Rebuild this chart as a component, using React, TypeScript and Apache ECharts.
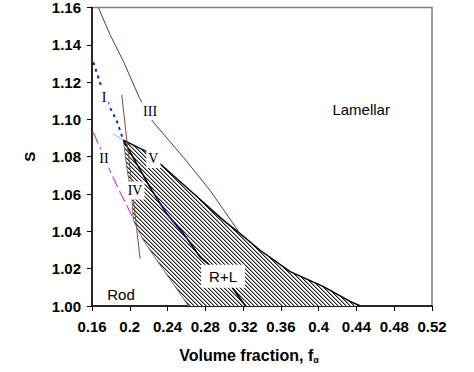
import React, { useEffect, useRef } from "react";
import * as echarts from "echarts";

// axis ranges and ticks
const xRange = [0.16, 0.52];
const xStep = 0.04;
const yRange = [1.0, 1.16];
const yStep = 0.02;

// hatched region boundaries [f, S]
const innerLeft = [
  [0.1932, 1.0889], [0.1968, 1.0743], [0.2021, 1.0583], [0.2038, 1.0459],
  [0.2144, 1.0352], [0.2286, 1.0245], [0.2445, 1.013], [0.2621, 1.0],
];
const innerRight = [
  [0.1932, 1.0889], [0.2215, 1.0636], [0.2392, 1.0494], [0.2568, 1.0388],
  [0.2745, 1.0263], [0.3028, 1.0139], [0.3225, 1.0],
];
const outerEdge = [
  [0.1932, 1.0889], [0.2162, 1.0832], [0.2321, 1.0762], [0.2639, 1.0619],
  [0.2992, 1.0459], [0.3168, 1.0388], [0.338, 1.0299], [0.3698, 1.0184],
  [0.4051, 1.0104], [0.4337, 1.0024], [0.4443, 1.0],
];

// curves
const curveIII = [
  [0.1667, 1.16], [0.1791, 1.1454], [0.1932, 1.1312], [0.2101, 1.1117],
  [0.2243, 1.0989], [0.2568, 1.0797], [0.2851, 1.0619], [0.3168, 1.0388],
];
const curveI = [
  [0.1614, 1.1307], [0.1685, 1.1196], [0.1791, 1.1063], [0.1862, 1.0992], [0.1932, 1.0889],
];
const curveIDashTail = [[0.228, 1.0584], [0.2392, 1.0494], [0.2568, 1.0388], [0.268, 1.031]];
const curveII = [[0.1614, 1.093], [0.1791, 1.0725], [0.1897, 1.061], [0.2038, 1.0468]];
const brownLine = [[0.1915, 1.1131], [0.2109, 1.0254]];
const cyanLine = [[0.1823, 1.0923], [0.1932, 1.0889]];

// region labels
const labelTexts = ["I", "II", "III", "IV", "V", "R+L", "Rod", "Lamellar"];
const labelX = [0.1727, 0.1727, 0.2215, 0.2056, 0.225, 0.2988, 0.1907, 0.445];
const labelY = [1.112, 1.079, 1.1045, 1.0619, 1.0788, 1.016, 1.0064, 1.1051];
const labelSerif = [true, true, true, true, true, false, false, false];
const labelBox = [true, true, true, true, true, true, false, false];

function makeHatch() {
  const n = 4;
  const c = document.createElement("canvas");
  c.width = n;
  c.height = n;
  const ctx = c.getContext("2d")!;
  ctx.fillStyle = "#ffffff";
  ctx.fillRect(0, 0, n, n);
  for (let i = 0; i < n; i++) {
    ctx.fillStyle = "#1e1e1e";
    ctx.fillRect(i, i, 1, 1);
    ctx.fillStyle = "#9a9a9a";
    ctx.fillRect((i + 1) % n, i, 1, 1);
  }
  return { image: c, repeat: "repeat", imageWidth: n, imageHeight: n };
}

function polygonSeries(pts: number[][], fill: any) {
  return {
    type: "custom",
    coordinateSystem: "cartesian2d",
    silent: true,
    z: 1,
    data: [pts[0]],
    renderItem: (_p: any, api: any) => ({
      type: "polygon",
      shape: { points: pts.map((p) => api.coord(p)) },
      style: { fill, stroke: "none" },
    }),
  };
}

function lineSeries(pts: number[][], color: string, width: number, type: any, z = 3) {
  return {
    type: "line",
    data: pts,
    showSymbol: false,
    silent: true,
    z,
    lineStyle: { color, width, type },
  };
}

export default function App() {
  const ref = useRef<HTMLDivElement>(null);
  useEffect(() => {
    if (!ref.current) return;
    const chart = echarts.init(ref.current, null, { renderer: "svg" });
    const hatch = makeHatch();
    const innerPoly = innerLeft.concat(innerRight.slice().reverse());
    const outerPoly = innerRight.concat(outerEdge.slice().reverse());
    chart.setOption({
      animation: false,
      backgroundColor: "#ffffff",
      grid: {
        left: 92, top: 6, width: 340, height: 300,
        show: true, borderColor: "#7f7f7f", borderWidth: 1.5,
      },
      xAxis: {
        type: "value", min: xRange[0], max: xRange[1], interval: xStep,
        splitLine: { show: false },
        axisLine: { lineStyle: { color: "#000", width: 1.5 } },
        axisTick: { show: true, length: 5, lineStyle: { color: "#000", width: 1 } },
        axisLabel: {
          margin: 13, color: "#000", fontSize: 15, fontWeight: "bold", fontFamily: "Liberation Sans, Arial",
          formatter: (v: number) => String(+v.toFixed(2)),
        },
        name: "Volume fraction, f{sub|α}",
        nameLocation: "middle",
        nameGap: 41,
        nameTextStyle: {
          color: "#000", fontSize: 16, fontWeight: "bold", fontFamily: "Liberation Sans, Arial",
          padding: [0, 26, 0, 0],
          rich: { sub: { fontSize: 9, fontWeight: "bold", verticalAlign: "bottom", padding: [8, 0, 0, 0] } },
        },
      },
      yAxis: {
        type: "value", min: yRange[0], max: yRange[1], interval: yStep,
        splitLine: { show: false },
        axisLine: { show: true, lineStyle: { color: "#000", width: 1.5 } },
        axisTick: { show: true, length: 5, lineStyle: { color: "#000", width: 1 } },
        axisLabel: {
          margin: 11, color: "#000", fontSize: 15, fontWeight: "bold", fontFamily: "Liberation Sans, Arial",
          formatter: (v: number) => v.toFixed(2),
        },
        name: "S",
        nameLocation: "middle",
        nameGap: 55,
        nameTextStyle: { color: "#000", fontSize: 15, fontWeight: "bold", fontFamily: "Liberation Sans, Arial" },
      },
      series: [
        polygonSeries(innerPoly, hatch),
        polygonSeries(outerPoly, hatch),
        lineSeries(innerLeft, "#555555", 0.8, "solid", 2),
        lineSeries(innerRight, "#000000", 1.6, "solid"),
        lineSeries(outerEdge, "#000000", 1.4, "solid"),
        lineSeries(curveIII, "#3b3b8f", 1, "solid"),
        lineSeries(curveI, "#2020d0", 2, [3, 4]),
        lineSeries(curveIDashTail, "#2020d0", 2, [3, 4], 4),
        lineSeries(curveII, "#cc44cc", 1.2, [12, 4]),
        lineSeries(brownLine, "#8b4a2b", 1, "solid", 4),
        lineSeries(cyanLine, "#66d0e0", 1, "solid", 4),
        {
          type: "custom",
          coordinateSystem: "cartesian2d",
          silent: true,
          z: 10,
          data: labelX.map((x, i) => [x, labelY[i]]),
          renderItem: (params: any, api: any) => {
            const i = params.dataIndex;
            const [px, py] = api.coord([labelX[i], labelY[i]]);
            const serif = labelSerif[i];
            return {
              type: "text",
              x: px,
              y: py,
              style: {
                text: labelTexts[i],
                fontFamily: serif ? "Liberation Serif, Times New Roman" : "Liberation Sans, Arial",
                fontSize: serif ? 14 : 15,
                fill: "#000",
                align: "center",
                verticalAlign: "middle",
                backgroundColor: labelBox[i] ? "#ffffff" : undefined,
                padding: labelBox[i] ? (serif ? [2, 2] : [4, 8]) : 0,
              },
            };
          },
        },
      ],
    });
    return () => chart.dispose();
  }, []);
  return <div ref={ref} style={{ width: 474, height: 372, position: "absolute", left: 0, top: 0 }} />;
}
